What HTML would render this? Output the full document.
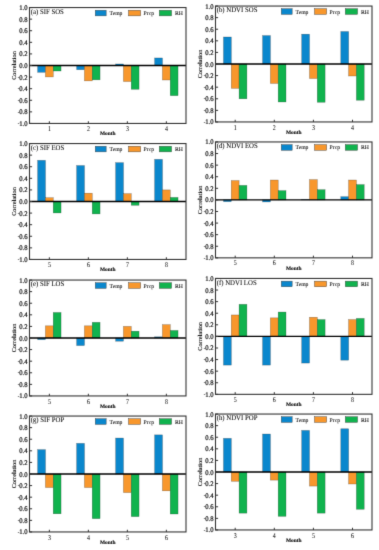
<!DOCTYPE html>
<html><head><meta charset="utf-8"><style>
html,body{margin:0;padding:0;background:#fff;}
body{width:379px;height:550px;overflow:hidden;}
svg{display:block;}
text{font-family:"Liberation Serif", serif;fill:#000000;text-rendering:geometricPrecision;stroke:#000;stroke-width:0.1px;}
.yt{font-size:7.0px;text-anchor:end;stroke-width:0.18px;}
.mn{font-size:4.9px;}
.xt{font-size:7.4px;text-anchor:middle;stroke-width:0.03px;}
.ml{font-size:5.4px;font-weight:bold;text-anchor:middle;}
.cl{font-size:6.0px;text-anchor:middle;}
.tt{font-size:7.3px;stroke-width:0.05px;}
.lg{font-size:5.7px;stroke-width:0.06px;}
</style></head><body>
<svg width="379" height="550" viewBox="0 0 379 550">
<defs><filter id="bl" x="0" y="0" width="379" height="550" filterUnits="userSpaceOnUse" color-interpolation-filters="sRGB"><feConvolveMatrix order="3" kernelMatrix="0.01115 0.08329 0.01115 0.08329 0.62227 0.08329 0.01115 0.08329 0.01115" edgeMode="duplicate"/></filter></defs>
<g filter="url(#bl)">
<rect width="379" height="550" fill="#fff"/>
<rect x="37.65" y="65.5" width="7.8" height="6.78" fill="#0a87cd" stroke="rgba(0,0,0,0.4)" stroke-width="0.5"/>
<rect x="45.45" y="65.5" width="7.8" height="11.42" fill="#f8972c" stroke="rgba(0,0,0,0.4)" stroke-width="0.5"/>
<rect x="53.25" y="65.5" width="7.8" height="5.51" fill="#10b34e" stroke="rgba(0,0,0,0.4)" stroke-width="0.5"/>
<rect x="76.65" y="65.5" width="7.8" height="4.17" fill="#0a87cd" stroke="rgba(0,0,0,0.4)" stroke-width="0.5"/>
<rect x="84.45" y="65.5" width="7.8" height="15.36" fill="#f8972c" stroke="rgba(0,0,0,0.4)" stroke-width="0.5"/>
<rect x="92.25" y="65.5" width="7.8" height="14.31" fill="#10b34e" stroke="rgba(0,0,0,0.4)" stroke-width="0.5"/>
<rect x="115.65" y="63.99" width="7.8" height="1.51" fill="#0a87cd" stroke="rgba(0,0,0,0.4)" stroke-width="0.5"/>
<rect x="123.45" y="65.5" width="7.8" height="15.99" fill="#f8972c" stroke="rgba(0,0,0,0.4)" stroke-width="0.5"/>
<rect x="131.25" y="65.5" width="7.8" height="23.76" fill="#10b34e" stroke="rgba(0,0,0,0.4)" stroke-width="0.5"/>
<rect x="154.65" y="57.97" width="7.8" height="7.53" fill="#0a87cd" stroke="rgba(0,0,0,0.4)" stroke-width="0.5"/>
<rect x="162.45" y="65.5" width="7.8" height="14.49" fill="#f8972c" stroke="rgba(0,0,0,0.4)" stroke-width="0.5"/>
<rect x="170.25" y="65.5" width="7.8" height="30.13" fill="#10b34e" stroke="rgba(0,0,0,0.4)" stroke-width="0.5"/>
<line x1="29.5" y1="65.5" x2="186" y2="65.5" stroke="#000" stroke-width="1.3"/>
<rect x="29.5" y="7.55" width="156.5" height="115.9" fill="none" stroke="#333333" stroke-width="1.1"/>
<line x1="29.5" y1="7.55" x2="32.1" y2="7.55" stroke="#333333" stroke-width="1"/>
<text transform="translate(27.5 10.05) scale(0.95 1)" class="yt">1.0</text>
<line x1="29.5" y1="19.14" x2="32.1" y2="19.14" stroke="#333333" stroke-width="1"/>
<text transform="translate(27.5 21.64) scale(0.95 1)" class="yt">0.8</text>
<line x1="29.5" y1="30.73" x2="32.1" y2="30.73" stroke="#333333" stroke-width="1"/>
<text transform="translate(27.5 33.23) scale(0.95 1)" class="yt">0.6</text>
<line x1="29.5" y1="42.32" x2="32.1" y2="42.32" stroke="#333333" stroke-width="1"/>
<text transform="translate(27.5 44.82) scale(0.95 1)" class="yt">0.4</text>
<line x1="29.5" y1="53.91" x2="32.1" y2="53.91" stroke="#333333" stroke-width="1"/>
<text transform="translate(27.5 56.41) scale(0.95 1)" class="yt">0.2</text>
<line x1="29.5" y1="65.5" x2="32.1" y2="65.5" stroke="#333333" stroke-width="1"/>
<text transform="translate(27.5 68) scale(0.95 1)" class="yt">0.0</text>
<line x1="29.5" y1="77.09" x2="32.1" y2="77.09" stroke="#333333" stroke-width="1"/>
<text transform="translate(27.5 79.59) scale(0.95 1)" class="yt"><tspan class="mn" dy="-0.8">-</tspan><tspan dy="0.8">0.2</tspan></text>
<line x1="29.5" y1="88.68" x2="32.1" y2="88.68" stroke="#333333" stroke-width="1"/>
<text transform="translate(27.5 91.18) scale(0.95 1)" class="yt"><tspan class="mn" dy="-0.8">-</tspan><tspan dy="0.8">0.4</tspan></text>
<line x1="29.5" y1="100.27" x2="32.1" y2="100.27" stroke="#333333" stroke-width="1"/>
<text transform="translate(27.5 102.77) scale(0.95 1)" class="yt"><tspan class="mn" dy="-0.8">-</tspan><tspan dy="0.8">0.6</tspan></text>
<line x1="29.5" y1="111.86" x2="32.1" y2="111.86" stroke="#333333" stroke-width="1"/>
<text transform="translate(27.5 114.36) scale(0.95 1)" class="yt"><tspan class="mn" dy="-0.8">-</tspan><tspan dy="0.8">0.8</tspan></text>
<line x1="29.5" y1="123.45" x2="32.1" y2="123.45" stroke="#333333" stroke-width="1"/>
<text transform="translate(27.5 125.95) scale(0.95 1)" class="yt"><tspan class="mn" dy="-0.8">-</tspan><tspan dy="0.8">1.0</tspan></text>
<line x1="49.35" y1="123.45" x2="49.35" y2="121.25" stroke="#333333" stroke-width="1"/>
<text transform="translate(49.35 131.05) scale(0.8 1)" class="xt">1</text>
<line x1="88.35" y1="123.45" x2="88.35" y2="121.25" stroke="#333333" stroke-width="1"/>
<text transform="translate(88.35 131.05) scale(0.8 1)" class="xt">2</text>
<line x1="127.35" y1="123.45" x2="127.35" y2="121.25" stroke="#333333" stroke-width="1"/>
<text transform="translate(127.35 131.05) scale(0.8 1)" class="xt">3</text>
<line x1="166.35" y1="123.45" x2="166.35" y2="121.25" stroke="#333333" stroke-width="1"/>
<text transform="translate(166.35 131.05) scale(0.8 1)" class="xt">4</text>
<text x="107.75" y="135.2" class="ml">Month</text>
<text transform="translate(15.7 65.5) rotate(-90) scale(1.05 1)" class="cl">Correlation</text>
<text transform="translate(30.7 13.85) scale(0.93 1)" class="tt">(a) SIF SOS</text>
<rect x="95.25" y="10.25" width="10.9" height="5.6" fill="#0a87cd" stroke="#444" stroke-width="0.45"/>
<text x="109.6" y="15.05" class="lg">Temp</text>
<rect x="128.5" y="10.25" width="12.1" height="5.6" fill="#f8972c" stroke="#444" stroke-width="0.45"/>
<text x="143.6" y="15.05" class="lg">Prcp</text>
<rect x="159.3" y="10.25" width="12.25" height="5.6" fill="#10b34e" stroke="#444" stroke-width="0.45"/>
<text x="175" y="15.05" class="lg">RH</text>
<rect x="223.5" y="37" width="7.8" height="27" fill="#0a87cd" stroke="rgba(0,0,0,0.4)" stroke-width="0.5"/>
<rect x="231.3" y="64" width="7.8" height="24.34" fill="#f8972c" stroke="rgba(0,0,0,0.4)" stroke-width="0.5"/>
<rect x="239.1" y="64" width="7.8" height="34.77" fill="#10b34e" stroke="rgba(0,0,0,0.4)" stroke-width="0.5"/>
<rect x="262.6" y="35.6" width="7.8" height="28.4" fill="#0a87cd" stroke="rgba(0,0,0,0.4)" stroke-width="0.5"/>
<rect x="270.4" y="64" width="7.8" height="19.41" fill="#f8972c" stroke="rgba(0,0,0,0.4)" stroke-width="0.5"/>
<rect x="278.2" y="64" width="7.8" height="37.96" fill="#10b34e" stroke="rgba(0,0,0,0.4)" stroke-width="0.5"/>
<rect x="301.7" y="34.21" width="7.8" height="29.79" fill="#0a87cd" stroke="rgba(0,0,0,0.4)" stroke-width="0.5"/>
<rect x="309.5" y="64" width="7.8" height="14.49" fill="#f8972c" stroke="rgba(0,0,0,0.4)" stroke-width="0.5"/>
<rect x="317.3" y="64" width="7.8" height="38.25" fill="#10b34e" stroke="rgba(0,0,0,0.4)" stroke-width="0.5"/>
<rect x="340.8" y="31.55" width="7.8" height="32.45" fill="#0a87cd" stroke="rgba(0,0,0,0.4)" stroke-width="0.5"/>
<rect x="348.6" y="64" width="7.8" height="12" fill="#f8972c" stroke="rgba(0,0,0,0.4)" stroke-width="0.5"/>
<rect x="356.4" y="64" width="7.8" height="36.22" fill="#10b34e" stroke="rgba(0,0,0,0.4)" stroke-width="0.5"/>
<line x1="215.5" y1="64" x2="372" y2="64" stroke="#000" stroke-width="1.3"/>
<rect x="215.5" y="6.05" width="156.5" height="115.9" fill="none" stroke="#333333" stroke-width="1.1"/>
<line x1="215.5" y1="6.05" x2="218.1" y2="6.05" stroke="#333333" stroke-width="1"/>
<text transform="translate(213.5 8.55) scale(0.95 1)" class="yt">1.0</text>
<line x1="215.5" y1="17.64" x2="218.1" y2="17.64" stroke="#333333" stroke-width="1"/>
<text transform="translate(213.5 20.14) scale(0.95 1)" class="yt">0.8</text>
<line x1="215.5" y1="29.23" x2="218.1" y2="29.23" stroke="#333333" stroke-width="1"/>
<text transform="translate(213.5 31.73) scale(0.95 1)" class="yt">0.6</text>
<line x1="215.5" y1="40.82" x2="218.1" y2="40.82" stroke="#333333" stroke-width="1"/>
<text transform="translate(213.5 43.32) scale(0.95 1)" class="yt">0.4</text>
<line x1="215.5" y1="52.41" x2="218.1" y2="52.41" stroke="#333333" stroke-width="1"/>
<text transform="translate(213.5 54.91) scale(0.95 1)" class="yt">0.2</text>
<line x1="215.5" y1="64" x2="218.1" y2="64" stroke="#333333" stroke-width="1"/>
<text transform="translate(213.5 66.5) scale(0.95 1)" class="yt">0.0</text>
<line x1="215.5" y1="75.59" x2="218.1" y2="75.59" stroke="#333333" stroke-width="1"/>
<text transform="translate(213.5 78.09) scale(0.95 1)" class="yt"><tspan class="mn" dy="-0.8">-</tspan><tspan dy="0.8">0.2</tspan></text>
<line x1="215.5" y1="87.18" x2="218.1" y2="87.18" stroke="#333333" stroke-width="1"/>
<text transform="translate(213.5 89.68) scale(0.95 1)" class="yt"><tspan class="mn" dy="-0.8">-</tspan><tspan dy="0.8">0.4</tspan></text>
<line x1="215.5" y1="98.77" x2="218.1" y2="98.77" stroke="#333333" stroke-width="1"/>
<text transform="translate(213.5 101.27) scale(0.95 1)" class="yt"><tspan class="mn" dy="-0.8">-</tspan><tspan dy="0.8">0.6</tspan></text>
<line x1="215.5" y1="110.36" x2="218.1" y2="110.36" stroke="#333333" stroke-width="1"/>
<text transform="translate(213.5 112.86) scale(0.95 1)" class="yt"><tspan class="mn" dy="-0.8">-</tspan><tspan dy="0.8">0.8</tspan></text>
<line x1="215.5" y1="121.95" x2="218.1" y2="121.95" stroke="#333333" stroke-width="1"/>
<text transform="translate(213.5 124.45) scale(0.95 1)" class="yt"><tspan class="mn" dy="-0.8">-</tspan><tspan dy="0.8">1.0</tspan></text>
<line x1="235.2" y1="121.95" x2="235.2" y2="119.75" stroke="#333333" stroke-width="1"/>
<text transform="translate(235.2 129.55) scale(0.8 1)" class="xt">1</text>
<line x1="274.3" y1="121.95" x2="274.3" y2="119.75" stroke="#333333" stroke-width="1"/>
<text transform="translate(274.3 129.55) scale(0.8 1)" class="xt">2</text>
<line x1="313.4" y1="121.95" x2="313.4" y2="119.75" stroke="#333333" stroke-width="1"/>
<text transform="translate(313.4 129.55) scale(0.8 1)" class="xt">3</text>
<line x1="352.5" y1="121.95" x2="352.5" y2="119.75" stroke="#333333" stroke-width="1"/>
<text transform="translate(352.5 129.55) scale(0.8 1)" class="xt">4</text>
<text x="293.75" y="133.7" class="ml">Month</text>
<text transform="translate(201.7 64) rotate(-90) scale(1.05 1)" class="cl">Correlation</text>
<text transform="translate(216.7 12.35) scale(0.93 1)" class="tt">(b) NDVI SOS</text>
<rect x="281.25" y="8.75" width="10.9" height="5.6" fill="#0a87cd" stroke="#444" stroke-width="0.45"/>
<text x="295.6" y="13.55" class="lg">Temp</text>
<rect x="314.5" y="8.75" width="12.1" height="5.6" fill="#f8972c" stroke="#444" stroke-width="0.45"/>
<text x="329.6" y="13.55" class="lg">Prcp</text>
<rect x="345.3" y="8.75" width="12.25" height="5.6" fill="#10b34e" stroke="#444" stroke-width="0.45"/>
<text x="361" y="13.55" class="lg">RH</text>
<rect x="37.65" y="160.36" width="7.8" height="41.14" fill="#0a87cd" stroke="rgba(0,0,0,0.4)" stroke-width="0.5"/>
<rect x="45.45" y="197.73" width="7.8" height="3.77" fill="#f8972c" stroke="rgba(0,0,0,0.4)" stroke-width="0.5"/>
<rect x="53.25" y="201.5" width="7.8" height="11.42" fill="#10b34e" stroke="rgba(0,0,0,0.4)" stroke-width="0.5"/>
<rect x="76.65" y="165.57" width="7.8" height="35.93" fill="#0a87cd" stroke="rgba(0,0,0,0.4)" stroke-width="0.5"/>
<rect x="84.45" y="193.21" width="7.8" height="8.29" fill="#f8972c" stroke="rgba(0,0,0,0.4)" stroke-width="0.5"/>
<rect x="92.25" y="201.5" width="7.8" height="12.4" fill="#10b34e" stroke="rgba(0,0,0,0.4)" stroke-width="0.5"/>
<rect x="115.65" y="162.67" width="7.8" height="38.83" fill="#0a87cd" stroke="rgba(0,0,0,0.4)" stroke-width="0.5"/>
<rect x="123.45" y="193.68" width="7.8" height="7.82" fill="#f8972c" stroke="rgba(0,0,0,0.4)" stroke-width="0.5"/>
<rect x="131.25" y="201.5" width="7.8" height="3.77" fill="#10b34e" stroke="rgba(0,0,0,0.4)" stroke-width="0.5"/>
<rect x="154.65" y="159.37" width="7.8" height="42.13" fill="#0a87cd" stroke="rgba(0,0,0,0.4)" stroke-width="0.5"/>
<rect x="162.45" y="189.91" width="7.8" height="11.59" fill="#f8972c" stroke="rgba(0,0,0,0.4)" stroke-width="0.5"/>
<rect x="170.25" y="197.44" width="7.8" height="4.06" fill="#10b34e" stroke="rgba(0,0,0,0.4)" stroke-width="0.5"/>
<line x1="29.5" y1="201.5" x2="186" y2="201.5" stroke="#000" stroke-width="1.3"/>
<rect x="29.5" y="143.55" width="156.5" height="115.9" fill="none" stroke="#333333" stroke-width="1.1"/>
<line x1="29.5" y1="143.55" x2="32.1" y2="143.55" stroke="#333333" stroke-width="1"/>
<text transform="translate(27.5 146.05) scale(0.95 1)" class="yt">1.0</text>
<line x1="29.5" y1="155.14" x2="32.1" y2="155.14" stroke="#333333" stroke-width="1"/>
<text transform="translate(27.5 157.64) scale(0.95 1)" class="yt">0.8</text>
<line x1="29.5" y1="166.73" x2="32.1" y2="166.73" stroke="#333333" stroke-width="1"/>
<text transform="translate(27.5 169.23) scale(0.95 1)" class="yt">0.6</text>
<line x1="29.5" y1="178.32" x2="32.1" y2="178.32" stroke="#333333" stroke-width="1"/>
<text transform="translate(27.5 180.82) scale(0.95 1)" class="yt">0.4</text>
<line x1="29.5" y1="189.91" x2="32.1" y2="189.91" stroke="#333333" stroke-width="1"/>
<text transform="translate(27.5 192.41) scale(0.95 1)" class="yt">0.2</text>
<line x1="29.5" y1="201.5" x2="32.1" y2="201.5" stroke="#333333" stroke-width="1"/>
<text transform="translate(27.5 204) scale(0.95 1)" class="yt">0.0</text>
<line x1="29.5" y1="213.09" x2="32.1" y2="213.09" stroke="#333333" stroke-width="1"/>
<text transform="translate(27.5 215.59) scale(0.95 1)" class="yt"><tspan class="mn" dy="-0.8">-</tspan><tspan dy="0.8">0.2</tspan></text>
<line x1="29.5" y1="224.68" x2="32.1" y2="224.68" stroke="#333333" stroke-width="1"/>
<text transform="translate(27.5 227.18) scale(0.95 1)" class="yt"><tspan class="mn" dy="-0.8">-</tspan><tspan dy="0.8">0.4</tspan></text>
<line x1="29.5" y1="236.27" x2="32.1" y2="236.27" stroke="#333333" stroke-width="1"/>
<text transform="translate(27.5 238.77) scale(0.95 1)" class="yt"><tspan class="mn" dy="-0.8">-</tspan><tspan dy="0.8">0.6</tspan></text>
<line x1="29.5" y1="247.86" x2="32.1" y2="247.86" stroke="#333333" stroke-width="1"/>
<text transform="translate(27.5 250.36) scale(0.95 1)" class="yt"><tspan class="mn" dy="-0.8">-</tspan><tspan dy="0.8">0.8</tspan></text>
<line x1="29.5" y1="259.45" x2="32.1" y2="259.45" stroke="#333333" stroke-width="1"/>
<text transform="translate(27.5 261.95) scale(0.95 1)" class="yt"><tspan class="mn" dy="-0.8">-</tspan><tspan dy="0.8">1.0</tspan></text>
<line x1="49.35" y1="259.45" x2="49.35" y2="257.25" stroke="#333333" stroke-width="1"/>
<text transform="translate(49.35 267.05) scale(0.8 1)" class="xt">5</text>
<line x1="88.35" y1="259.45" x2="88.35" y2="257.25" stroke="#333333" stroke-width="1"/>
<text transform="translate(88.35 267.05) scale(0.8 1)" class="xt">6</text>
<line x1="127.35" y1="259.45" x2="127.35" y2="257.25" stroke="#333333" stroke-width="1"/>
<text transform="translate(127.35 267.05) scale(0.8 1)" class="xt">7</text>
<line x1="166.35" y1="259.45" x2="166.35" y2="257.25" stroke="#333333" stroke-width="1"/>
<text transform="translate(166.35 267.05) scale(0.8 1)" class="xt">8</text>
<text x="107.75" y="271.2" class="ml">Month</text>
<text transform="translate(15.7 201.5) rotate(-90) scale(1.05 1)" class="cl">Correlation</text>
<text transform="translate(30.7 149.85) scale(0.93 1)" class="tt">(c) SIF EOS</text>
<rect x="95.25" y="146.25" width="10.9" height="5.6" fill="#0a87cd" stroke="#444" stroke-width="0.45"/>
<text x="109.6" y="151.05" class="lg">Temp</text>
<rect x="128.5" y="146.25" width="12.1" height="5.6" fill="#f8972c" stroke="#444" stroke-width="0.45"/>
<text x="143.6" y="151.05" class="lg">Prcp</text>
<rect x="159.3" y="146.25" width="12.25" height="5.6" fill="#10b34e" stroke="#444" stroke-width="0.45"/>
<text x="175" y="151.05" class="lg">RH</text>
<rect x="223.5" y="199.9" width="7.8" height="1.74" fill="#0a87cd" stroke="rgba(0,0,0,0.4)" stroke-width="0.5"/>
<rect x="231.3" y="180.6" width="7.8" height="19.3" fill="#f8972c" stroke="rgba(0,0,0,0.4)" stroke-width="0.5"/>
<rect x="239.1" y="185.41" width="7.8" height="14.49" fill="#10b34e" stroke="rgba(0,0,0,0.4)" stroke-width="0.5"/>
<rect x="262.6" y="199.9" width="7.8" height="2.03" fill="#0a87cd" stroke="rgba(0,0,0,0.4)" stroke-width="0.5"/>
<rect x="270.4" y="180.02" width="7.8" height="19.88" fill="#f8972c" stroke="rgba(0,0,0,0.4)" stroke-width="0.5"/>
<rect x="278.2" y="190.63" width="7.8" height="9.27" fill="#10b34e" stroke="rgba(0,0,0,0.4)" stroke-width="0.5"/>
<rect x="301.7" y="199.61" width="7.8" height="0.29" fill="#0a87cd" stroke="rgba(0,0,0,0.4)" stroke-width="0.5"/>
<rect x="309.5" y="179.62" width="7.8" height="20.28" fill="#f8972c" stroke="rgba(0,0,0,0.4)" stroke-width="0.5"/>
<rect x="317.3" y="189.7" width="7.8" height="10.2" fill="#10b34e" stroke="rgba(0,0,0,0.4)" stroke-width="0.5"/>
<rect x="340.8" y="196.71" width="7.8" height="3.19" fill="#0a87cd" stroke="rgba(0,0,0,0.4)" stroke-width="0.5"/>
<rect x="348.6" y="180.02" width="7.8" height="19.88" fill="#f8972c" stroke="rgba(0,0,0,0.4)" stroke-width="0.5"/>
<rect x="356.4" y="184.6" width="7.8" height="15.3" fill="#10b34e" stroke="rgba(0,0,0,0.4)" stroke-width="0.5"/>
<line x1="215.5" y1="199.9" x2="372" y2="199.9" stroke="#000" stroke-width="1.3"/>
<rect x="215.5" y="141.95" width="156.5" height="115.9" fill="none" stroke="#333333" stroke-width="1.1"/>
<line x1="215.5" y1="141.95" x2="218.1" y2="141.95" stroke="#333333" stroke-width="1"/>
<text transform="translate(213.5 144.45) scale(0.95 1)" class="yt">1.0</text>
<line x1="215.5" y1="153.54" x2="218.1" y2="153.54" stroke="#333333" stroke-width="1"/>
<text transform="translate(213.5 156.04) scale(0.95 1)" class="yt">0.8</text>
<line x1="215.5" y1="165.13" x2="218.1" y2="165.13" stroke="#333333" stroke-width="1"/>
<text transform="translate(213.5 167.63) scale(0.95 1)" class="yt">0.6</text>
<line x1="215.5" y1="176.72" x2="218.1" y2="176.72" stroke="#333333" stroke-width="1"/>
<text transform="translate(213.5 179.22) scale(0.95 1)" class="yt">0.4</text>
<line x1="215.5" y1="188.31" x2="218.1" y2="188.31" stroke="#333333" stroke-width="1"/>
<text transform="translate(213.5 190.81) scale(0.95 1)" class="yt">0.2</text>
<line x1="215.5" y1="199.9" x2="218.1" y2="199.9" stroke="#333333" stroke-width="1"/>
<text transform="translate(213.5 202.4) scale(0.95 1)" class="yt">0.0</text>
<line x1="215.5" y1="211.49" x2="218.1" y2="211.49" stroke="#333333" stroke-width="1"/>
<text transform="translate(213.5 213.99) scale(0.95 1)" class="yt"><tspan class="mn" dy="-0.8">-</tspan><tspan dy="0.8">0.2</tspan></text>
<line x1="215.5" y1="223.08" x2="218.1" y2="223.08" stroke="#333333" stroke-width="1"/>
<text transform="translate(213.5 225.58) scale(0.95 1)" class="yt"><tspan class="mn" dy="-0.8">-</tspan><tspan dy="0.8">0.4</tspan></text>
<line x1="215.5" y1="234.67" x2="218.1" y2="234.67" stroke="#333333" stroke-width="1"/>
<text transform="translate(213.5 237.17) scale(0.95 1)" class="yt"><tspan class="mn" dy="-0.8">-</tspan><tspan dy="0.8">0.6</tspan></text>
<line x1="215.5" y1="246.26" x2="218.1" y2="246.26" stroke="#333333" stroke-width="1"/>
<text transform="translate(213.5 248.76) scale(0.95 1)" class="yt"><tspan class="mn" dy="-0.8">-</tspan><tspan dy="0.8">0.8</tspan></text>
<line x1="215.5" y1="257.85" x2="218.1" y2="257.85" stroke="#333333" stroke-width="1"/>
<text transform="translate(213.5 260.35) scale(0.95 1)" class="yt"><tspan class="mn" dy="-0.8">-</tspan><tspan dy="0.8">1.0</tspan></text>
<line x1="235.2" y1="257.85" x2="235.2" y2="255.65" stroke="#333333" stroke-width="1"/>
<text transform="translate(235.2 265.45) scale(0.8 1)" class="xt">5</text>
<line x1="274.3" y1="257.85" x2="274.3" y2="255.65" stroke="#333333" stroke-width="1"/>
<text transform="translate(274.3 265.45) scale(0.8 1)" class="xt">6</text>
<line x1="313.4" y1="257.85" x2="313.4" y2="255.65" stroke="#333333" stroke-width="1"/>
<text transform="translate(313.4 265.45) scale(0.8 1)" class="xt">7</text>
<line x1="352.5" y1="257.85" x2="352.5" y2="255.65" stroke="#333333" stroke-width="1"/>
<text transform="translate(352.5 265.45) scale(0.8 1)" class="xt">8</text>
<text x="293.75" y="269.6" class="ml">Month</text>
<text transform="translate(201.7 199.9) rotate(-90) scale(1.05 1)" class="cl">Correlation</text>
<text transform="translate(216.7 148.25) scale(0.93 1)" class="tt">(d) NDVI EOS</text>
<rect x="281.25" y="144.65" width="10.9" height="5.6" fill="#0a87cd" stroke="#444" stroke-width="0.45"/>
<text x="295.6" y="149.45" class="lg">Temp</text>
<rect x="314.5" y="144.65" width="12.1" height="5.6" fill="#f8972c" stroke="#444" stroke-width="0.45"/>
<text x="329.6" y="149.45" class="lg">Prcp</text>
<rect x="345.3" y="144.65" width="12.25" height="5.6" fill="#10b34e" stroke="#444" stroke-width="0.45"/>
<text x="361" y="149.45" class="lg">RH</text>
<rect x="37.65" y="338" width="7.8" height="1.62" fill="#0a87cd" stroke="rgba(0,0,0,0.4)" stroke-width="0.5"/>
<rect x="45.45" y="325.83" width="7.8" height="12.17" fill="#f8972c" stroke="rgba(0,0,0,0.4)" stroke-width="0.5"/>
<rect x="53.25" y="312.5" width="7.8" height="25.5" fill="#10b34e" stroke="rgba(0,0,0,0.4)" stroke-width="0.5"/>
<rect x="76.65" y="338" width="7.8" height="7.53" fill="#0a87cd" stroke="rgba(0,0,0,0.4)" stroke-width="0.5"/>
<rect x="84.45" y="325.83" width="7.8" height="12.17" fill="#f8972c" stroke="rgba(0,0,0,0.4)" stroke-width="0.5"/>
<rect x="92.25" y="322.35" width="7.8" height="15.65" fill="#10b34e" stroke="rgba(0,0,0,0.4)" stroke-width="0.5"/>
<rect x="115.65" y="338" width="7.8" height="3.19" fill="#0a87cd" stroke="rgba(0,0,0,0.4)" stroke-width="0.5"/>
<rect x="123.45" y="326.41" width="7.8" height="11.59" fill="#f8972c" stroke="rgba(0,0,0,0.4)" stroke-width="0.5"/>
<rect x="131.25" y="331.22" width="7.8" height="6.78" fill="#10b34e" stroke="rgba(0,0,0,0.4)" stroke-width="0.5"/>
<rect x="154.65" y="336.84" width="7.8" height="1.16" fill="#0a87cd" stroke="rgba(0,0,0,0.4)" stroke-width="0.5"/>
<rect x="162.45" y="324.67" width="7.8" height="13.33" fill="#f8972c" stroke="rgba(0,0,0,0.4)" stroke-width="0.5"/>
<rect x="170.25" y="330.47" width="7.8" height="7.53" fill="#10b34e" stroke="rgba(0,0,0,0.4)" stroke-width="0.5"/>
<line x1="29.5" y1="338" x2="186" y2="338" stroke="#000" stroke-width="1.3"/>
<rect x="29.5" y="280.05" width="156.5" height="115.9" fill="none" stroke="#333333" stroke-width="1.1"/>
<line x1="29.5" y1="280.05" x2="32.1" y2="280.05" stroke="#333333" stroke-width="1"/>
<text transform="translate(27.5 282.55) scale(0.95 1)" class="yt">1.0</text>
<line x1="29.5" y1="291.64" x2="32.1" y2="291.64" stroke="#333333" stroke-width="1"/>
<text transform="translate(27.5 294.14) scale(0.95 1)" class="yt">0.8</text>
<line x1="29.5" y1="303.23" x2="32.1" y2="303.23" stroke="#333333" stroke-width="1"/>
<text transform="translate(27.5 305.73) scale(0.95 1)" class="yt">0.6</text>
<line x1="29.5" y1="314.82" x2="32.1" y2="314.82" stroke="#333333" stroke-width="1"/>
<text transform="translate(27.5 317.32) scale(0.95 1)" class="yt">0.4</text>
<line x1="29.5" y1="326.41" x2="32.1" y2="326.41" stroke="#333333" stroke-width="1"/>
<text transform="translate(27.5 328.91) scale(0.95 1)" class="yt">0.2</text>
<line x1="29.5" y1="338" x2="32.1" y2="338" stroke="#333333" stroke-width="1"/>
<text transform="translate(27.5 340.5) scale(0.95 1)" class="yt">0.0</text>
<line x1="29.5" y1="349.59" x2="32.1" y2="349.59" stroke="#333333" stroke-width="1"/>
<text transform="translate(27.5 352.09) scale(0.95 1)" class="yt"><tspan class="mn" dy="-0.8">-</tspan><tspan dy="0.8">0.2</tspan></text>
<line x1="29.5" y1="361.18" x2="32.1" y2="361.18" stroke="#333333" stroke-width="1"/>
<text transform="translate(27.5 363.68) scale(0.95 1)" class="yt"><tspan class="mn" dy="-0.8">-</tspan><tspan dy="0.8">0.4</tspan></text>
<line x1="29.5" y1="372.77" x2="32.1" y2="372.77" stroke="#333333" stroke-width="1"/>
<text transform="translate(27.5 375.27) scale(0.95 1)" class="yt"><tspan class="mn" dy="-0.8">-</tspan><tspan dy="0.8">0.6</tspan></text>
<line x1="29.5" y1="384.36" x2="32.1" y2="384.36" stroke="#333333" stroke-width="1"/>
<text transform="translate(27.5 386.86) scale(0.95 1)" class="yt"><tspan class="mn" dy="-0.8">-</tspan><tspan dy="0.8">0.8</tspan></text>
<line x1="29.5" y1="395.95" x2="32.1" y2="395.95" stroke="#333333" stroke-width="1"/>
<text transform="translate(27.5 398.45) scale(0.95 1)" class="yt"><tspan class="mn" dy="-0.8">-</tspan><tspan dy="0.8">1.0</tspan></text>
<line x1="49.35" y1="395.95" x2="49.35" y2="393.75" stroke="#333333" stroke-width="1"/>
<text transform="translate(49.35 403.55) scale(0.8 1)" class="xt">5</text>
<line x1="88.35" y1="395.95" x2="88.35" y2="393.75" stroke="#333333" stroke-width="1"/>
<text transform="translate(88.35 403.55) scale(0.8 1)" class="xt">6</text>
<line x1="127.35" y1="395.95" x2="127.35" y2="393.75" stroke="#333333" stroke-width="1"/>
<text transform="translate(127.35 403.55) scale(0.8 1)" class="xt">7</text>
<line x1="166.35" y1="395.95" x2="166.35" y2="393.75" stroke="#333333" stroke-width="1"/>
<text transform="translate(166.35 403.55) scale(0.8 1)" class="xt">8</text>
<text x="107.75" y="407.7" class="ml">Month</text>
<text transform="translate(15.7 338) rotate(-90) scale(1.05 1)" class="cl">Correlation</text>
<text transform="translate(30.7 286.35) scale(0.93 1)" class="tt">(e) SIF LOS</text>
<rect x="95.25" y="282.75" width="10.9" height="5.6" fill="#0a87cd" stroke="#444" stroke-width="0.45"/>
<text x="109.6" y="287.55" class="lg">Temp</text>
<rect x="128.5" y="282.75" width="12.1" height="5.6" fill="#f8972c" stroke="#444" stroke-width="0.45"/>
<text x="143.6" y="287.55" class="lg">Prcp</text>
<rect x="159.3" y="282.75" width="12.25" height="5.6" fill="#10b34e" stroke="#444" stroke-width="0.45"/>
<text x="175" y="287.55" class="lg">RH</text>
<rect x="223.5" y="336.4" width="7.8" height="28.69" fill="#0a87cd" stroke="rgba(0,0,0,0.4)" stroke-width="0.5"/>
<rect x="231.3" y="314.96" width="7.8" height="21.44" fill="#f8972c" stroke="rgba(0,0,0,0.4)" stroke-width="0.5"/>
<rect x="239.1" y="304.35" width="7.8" height="32.05" fill="#10b34e" stroke="rgba(0,0,0,0.4)" stroke-width="0.5"/>
<rect x="262.6" y="336.4" width="7.8" height="28.69" fill="#0a87cd" stroke="rgba(0,0,0,0.4)" stroke-width="0.5"/>
<rect x="270.4" y="317.86" width="7.8" height="18.54" fill="#f8972c" stroke="rgba(0,0,0,0.4)" stroke-width="0.5"/>
<rect x="278.2" y="312.06" width="7.8" height="24.34" fill="#10b34e" stroke="rgba(0,0,0,0.4)" stroke-width="0.5"/>
<rect x="301.7" y="336.4" width="7.8" height="26.66" fill="#0a87cd" stroke="rgba(0,0,0,0.4)" stroke-width="0.5"/>
<rect x="309.5" y="317.28" width="7.8" height="19.12" fill="#f8972c" stroke="rgba(0,0,0,0.4)" stroke-width="0.5"/>
<rect x="317.3" y="319.59" width="7.8" height="16.81" fill="#10b34e" stroke="rgba(0,0,0,0.4)" stroke-width="0.5"/>
<rect x="340.8" y="336.4" width="7.8" height="23.76" fill="#0a87cd" stroke="rgba(0,0,0,0.4)" stroke-width="0.5"/>
<rect x="348.6" y="319.59" width="7.8" height="16.81" fill="#f8972c" stroke="rgba(0,0,0,0.4)" stroke-width="0.5"/>
<rect x="356.4" y="318.44" width="7.8" height="17.96" fill="#10b34e" stroke="rgba(0,0,0,0.4)" stroke-width="0.5"/>
<line x1="215.5" y1="336.4" x2="372" y2="336.4" stroke="#000" stroke-width="1.3"/>
<rect x="215.5" y="278.45" width="156.5" height="115.9" fill="none" stroke="#333333" stroke-width="1.1"/>
<line x1="215.5" y1="278.45" x2="218.1" y2="278.45" stroke="#333333" stroke-width="1"/>
<text transform="translate(213.5 280.95) scale(0.95 1)" class="yt">1.0</text>
<line x1="215.5" y1="290.04" x2="218.1" y2="290.04" stroke="#333333" stroke-width="1"/>
<text transform="translate(213.5 292.54) scale(0.95 1)" class="yt">0.8</text>
<line x1="215.5" y1="301.63" x2="218.1" y2="301.63" stroke="#333333" stroke-width="1"/>
<text transform="translate(213.5 304.13) scale(0.95 1)" class="yt">0.6</text>
<line x1="215.5" y1="313.22" x2="218.1" y2="313.22" stroke="#333333" stroke-width="1"/>
<text transform="translate(213.5 315.72) scale(0.95 1)" class="yt">0.4</text>
<line x1="215.5" y1="324.81" x2="218.1" y2="324.81" stroke="#333333" stroke-width="1"/>
<text transform="translate(213.5 327.31) scale(0.95 1)" class="yt">0.2</text>
<line x1="215.5" y1="336.4" x2="218.1" y2="336.4" stroke="#333333" stroke-width="1"/>
<text transform="translate(213.5 338.9) scale(0.95 1)" class="yt">0.0</text>
<line x1="215.5" y1="347.99" x2="218.1" y2="347.99" stroke="#333333" stroke-width="1"/>
<text transform="translate(213.5 350.49) scale(0.95 1)" class="yt"><tspan class="mn" dy="-0.8">-</tspan><tspan dy="0.8">0.2</tspan></text>
<line x1="215.5" y1="359.58" x2="218.1" y2="359.58" stroke="#333333" stroke-width="1"/>
<text transform="translate(213.5 362.08) scale(0.95 1)" class="yt"><tspan class="mn" dy="-0.8">-</tspan><tspan dy="0.8">0.4</tspan></text>
<line x1="215.5" y1="371.17" x2="218.1" y2="371.17" stroke="#333333" stroke-width="1"/>
<text transform="translate(213.5 373.67) scale(0.95 1)" class="yt"><tspan class="mn" dy="-0.8">-</tspan><tspan dy="0.8">0.6</tspan></text>
<line x1="215.5" y1="382.76" x2="218.1" y2="382.76" stroke="#333333" stroke-width="1"/>
<text transform="translate(213.5 385.26) scale(0.95 1)" class="yt"><tspan class="mn" dy="-0.8">-</tspan><tspan dy="0.8">0.8</tspan></text>
<line x1="215.5" y1="394.35" x2="218.1" y2="394.35" stroke="#333333" stroke-width="1"/>
<text transform="translate(213.5 396.85) scale(0.95 1)" class="yt"><tspan class="mn" dy="-0.8">-</tspan><tspan dy="0.8">1.0</tspan></text>
<line x1="235.2" y1="394.35" x2="235.2" y2="392.15" stroke="#333333" stroke-width="1"/>
<text transform="translate(235.2 401.95) scale(0.8 1)" class="xt">5</text>
<line x1="274.3" y1="394.35" x2="274.3" y2="392.15" stroke="#333333" stroke-width="1"/>
<text transform="translate(274.3 401.95) scale(0.8 1)" class="xt">6</text>
<line x1="313.4" y1="394.35" x2="313.4" y2="392.15" stroke="#333333" stroke-width="1"/>
<text transform="translate(313.4 401.95) scale(0.8 1)" class="xt">7</text>
<line x1="352.5" y1="394.35" x2="352.5" y2="392.15" stroke="#333333" stroke-width="1"/>
<text transform="translate(352.5 401.95) scale(0.8 1)" class="xt">8</text>
<text x="293.75" y="406.1" class="ml">Month</text>
<text transform="translate(201.7 336.4) rotate(-90) scale(1.05 1)" class="cl">Correlation</text>
<text transform="translate(216.7 284.75) scale(0.93 1)" class="tt">(f) NDVI LOS</text>
<rect x="281.25" y="281.15" width="10.9" height="5.6" fill="#0a87cd" stroke="#444" stroke-width="0.45"/>
<text x="295.6" y="285.95" class="lg">Temp</text>
<rect x="314.5" y="281.15" width="12.1" height="5.6" fill="#f8972c" stroke="#444" stroke-width="0.45"/>
<text x="329.6" y="285.95" class="lg">Prcp</text>
<rect x="345.3" y="281.15" width="12.25" height="5.6" fill="#10b34e" stroke="#444" stroke-width="0.45"/>
<text x="361" y="285.95" class="lg">RH</text>
<rect x="37.65" y="449.66" width="7.8" height="24.34" fill="#0a87cd" stroke="rgba(0,0,0,0.4)" stroke-width="0.5"/>
<rect x="45.45" y="474" width="7.8" height="13.5" fill="#f8972c" stroke="rgba(0,0,0,0.4)" stroke-width="0.5"/>
<rect x="53.25" y="474" width="7.8" height="39.75" fill="#10b34e" stroke="rgba(0,0,0,0.4)" stroke-width="0.5"/>
<rect x="76.65" y="443.4" width="7.8" height="30.6" fill="#0a87cd" stroke="rgba(0,0,0,0.4)" stroke-width="0.5"/>
<rect x="84.45" y="474" width="7.8" height="13.5" fill="#f8972c" stroke="rgba(0,0,0,0.4)" stroke-width="0.5"/>
<rect x="92.25" y="474" width="7.8" height="44.62" fill="#10b34e" stroke="rgba(0,0,0,0.4)" stroke-width="0.5"/>
<rect x="115.65" y="438.07" width="7.8" height="35.93" fill="#0a87cd" stroke="rgba(0,0,0,0.4)" stroke-width="0.5"/>
<rect x="123.45" y="474" width="7.8" height="18.54" fill="#f8972c" stroke="rgba(0,0,0,0.4)" stroke-width="0.5"/>
<rect x="131.25" y="474" width="7.8" height="42.59" fill="#10b34e" stroke="rgba(0,0,0,0.4)" stroke-width="0.5"/>
<rect x="154.65" y="434.88" width="7.8" height="39.12" fill="#0a87cd" stroke="rgba(0,0,0,0.4)" stroke-width="0.5"/>
<rect x="162.45" y="474" width="7.8" height="16.81" fill="#f8972c" stroke="rgba(0,0,0,0.4)" stroke-width="0.5"/>
<rect x="170.25" y="474" width="7.8" height="39.99" fill="#10b34e" stroke="rgba(0,0,0,0.4)" stroke-width="0.5"/>
<line x1="29.5" y1="474" x2="186" y2="474" stroke="#000" stroke-width="1.3"/>
<rect x="29.5" y="416.05" width="156.5" height="115.9" fill="none" stroke="#333333" stroke-width="1.1"/>
<line x1="29.5" y1="416.05" x2="32.1" y2="416.05" stroke="#333333" stroke-width="1"/>
<text transform="translate(27.5 418.55) scale(0.95 1)" class="yt">1.0</text>
<line x1="29.5" y1="427.64" x2="32.1" y2="427.64" stroke="#333333" stroke-width="1"/>
<text transform="translate(27.5 430.14) scale(0.95 1)" class="yt">0.8</text>
<line x1="29.5" y1="439.23" x2="32.1" y2="439.23" stroke="#333333" stroke-width="1"/>
<text transform="translate(27.5 441.73) scale(0.95 1)" class="yt">0.6</text>
<line x1="29.5" y1="450.82" x2="32.1" y2="450.82" stroke="#333333" stroke-width="1"/>
<text transform="translate(27.5 453.32) scale(0.95 1)" class="yt">0.4</text>
<line x1="29.5" y1="462.41" x2="32.1" y2="462.41" stroke="#333333" stroke-width="1"/>
<text transform="translate(27.5 464.91) scale(0.95 1)" class="yt">0.2</text>
<line x1="29.5" y1="474" x2="32.1" y2="474" stroke="#333333" stroke-width="1"/>
<text transform="translate(27.5 476.5) scale(0.95 1)" class="yt">0.0</text>
<line x1="29.5" y1="485.59" x2="32.1" y2="485.59" stroke="#333333" stroke-width="1"/>
<text transform="translate(27.5 488.09) scale(0.95 1)" class="yt"><tspan class="mn" dy="-0.8">-</tspan><tspan dy="0.8">0.2</tspan></text>
<line x1="29.5" y1="497.18" x2="32.1" y2="497.18" stroke="#333333" stroke-width="1"/>
<text transform="translate(27.5 499.68) scale(0.95 1)" class="yt"><tspan class="mn" dy="-0.8">-</tspan><tspan dy="0.8">0.4</tspan></text>
<line x1="29.5" y1="508.77" x2="32.1" y2="508.77" stroke="#333333" stroke-width="1"/>
<text transform="translate(27.5 511.27) scale(0.95 1)" class="yt"><tspan class="mn" dy="-0.8">-</tspan><tspan dy="0.8">0.6</tspan></text>
<line x1="29.5" y1="520.36" x2="32.1" y2="520.36" stroke="#333333" stroke-width="1"/>
<text transform="translate(27.5 522.86) scale(0.95 1)" class="yt"><tspan class="mn" dy="-0.8">-</tspan><tspan dy="0.8">0.8</tspan></text>
<line x1="29.5" y1="531.95" x2="32.1" y2="531.95" stroke="#333333" stroke-width="1"/>
<text transform="translate(27.5 534.45) scale(0.95 1)" class="yt"><tspan class="mn" dy="-0.8">-</tspan><tspan dy="0.8">1.0</tspan></text>
<line x1="49.35" y1="531.95" x2="49.35" y2="529.75" stroke="#333333" stroke-width="1"/>
<text transform="translate(49.35 539.55) scale(0.8 1)" class="xt">3</text>
<line x1="88.35" y1="531.95" x2="88.35" y2="529.75" stroke="#333333" stroke-width="1"/>
<text transform="translate(88.35 539.55) scale(0.8 1)" class="xt">4</text>
<line x1="127.35" y1="531.95" x2="127.35" y2="529.75" stroke="#333333" stroke-width="1"/>
<text transform="translate(127.35 539.55) scale(0.8 1)" class="xt">5</text>
<line x1="166.35" y1="531.95" x2="166.35" y2="529.75" stroke="#333333" stroke-width="1"/>
<text transform="translate(166.35 539.55) scale(0.8 1)" class="xt">6</text>
<text x="107.75" y="543.7" class="ml">Month</text>
<text transform="translate(15.7 474) rotate(-90) scale(1.05 1)" class="cl">Correlation</text>
<text transform="translate(30.7 422.35) scale(0.93 1)" class="tt">(g) SIF POP</text>
<rect x="95.25" y="418.75" width="10.9" height="5.6" fill="#0a87cd" stroke="#444" stroke-width="0.45"/>
<text x="109.6" y="423.55" class="lg">Temp</text>
<rect x="128.5" y="418.75" width="12.1" height="5.6" fill="#f8972c" stroke="#444" stroke-width="0.45"/>
<text x="143.6" y="423.55" class="lg">Prcp</text>
<rect x="159.3" y="418.75" width="12.25" height="5.6" fill="#10b34e" stroke="#444" stroke-width="0.45"/>
<text x="175" y="423.55" class="lg">RH</text>
<rect x="223.5" y="438.39" width="7.8" height="33.61" fill="#0a87cd" stroke="rgba(0,0,0,0.4)" stroke-width="0.5"/>
<rect x="231.3" y="472" width="7.8" height="9.27" fill="#f8972c" stroke="rgba(0,0,0,0.4)" stroke-width="0.5"/>
<rect x="239.1" y="472" width="7.8" height="41.14" fill="#10b34e" stroke="rgba(0,0,0,0.4)" stroke-width="0.5"/>
<rect x="262.6" y="434.04" width="7.8" height="37.96" fill="#0a87cd" stroke="rgba(0,0,0,0.4)" stroke-width="0.5"/>
<rect x="270.4" y="472" width="7.8" height="8.11" fill="#f8972c" stroke="rgba(0,0,0,0.4)" stroke-width="0.5"/>
<rect x="278.2" y="472" width="7.8" height="44.33" fill="#10b34e" stroke="rgba(0,0,0,0.4)" stroke-width="0.5"/>
<rect x="301.7" y="430.45" width="7.8" height="41.55" fill="#0a87cd" stroke="rgba(0,0,0,0.4)" stroke-width="0.5"/>
<rect x="309.5" y="472" width="7.8" height="14.08" fill="#f8972c" stroke="rgba(0,0,0,0.4)" stroke-width="0.5"/>
<rect x="317.3" y="472" width="7.8" height="41.14" fill="#10b34e" stroke="rgba(0,0,0,0.4)" stroke-width="0.5"/>
<rect x="340.8" y="428.77" width="7.8" height="43.23" fill="#0a87cd" stroke="rgba(0,0,0,0.4)" stroke-width="0.5"/>
<rect x="348.6" y="472" width="7.8" height="12" fill="#f8972c" stroke="rgba(0,0,0,0.4)" stroke-width="0.5"/>
<rect x="356.4" y="472" width="7.8" height="37.26" fill="#10b34e" stroke="rgba(0,0,0,0.4)" stroke-width="0.5"/>
<line x1="215.5" y1="472" x2="372" y2="472" stroke="#000" stroke-width="1.3"/>
<rect x="215.5" y="414.05" width="156.5" height="115.9" fill="none" stroke="#333333" stroke-width="1.1"/>
<line x1="215.5" y1="414.05" x2="218.1" y2="414.05" stroke="#333333" stroke-width="1"/>
<text transform="translate(213.5 416.55) scale(0.95 1)" class="yt">1.0</text>
<line x1="215.5" y1="425.64" x2="218.1" y2="425.64" stroke="#333333" stroke-width="1"/>
<text transform="translate(213.5 428.14) scale(0.95 1)" class="yt">0.8</text>
<line x1="215.5" y1="437.23" x2="218.1" y2="437.23" stroke="#333333" stroke-width="1"/>
<text transform="translate(213.5 439.73) scale(0.95 1)" class="yt">0.6</text>
<line x1="215.5" y1="448.82" x2="218.1" y2="448.82" stroke="#333333" stroke-width="1"/>
<text transform="translate(213.5 451.32) scale(0.95 1)" class="yt">0.4</text>
<line x1="215.5" y1="460.41" x2="218.1" y2="460.41" stroke="#333333" stroke-width="1"/>
<text transform="translate(213.5 462.91) scale(0.95 1)" class="yt">0.2</text>
<line x1="215.5" y1="472" x2="218.1" y2="472" stroke="#333333" stroke-width="1"/>
<text transform="translate(213.5 474.5) scale(0.95 1)" class="yt">0.0</text>
<line x1="215.5" y1="483.59" x2="218.1" y2="483.59" stroke="#333333" stroke-width="1"/>
<text transform="translate(213.5 486.09) scale(0.95 1)" class="yt"><tspan class="mn" dy="-0.8">-</tspan><tspan dy="0.8">0.2</tspan></text>
<line x1="215.5" y1="495.18" x2="218.1" y2="495.18" stroke="#333333" stroke-width="1"/>
<text transform="translate(213.5 497.68) scale(0.95 1)" class="yt"><tspan class="mn" dy="-0.8">-</tspan><tspan dy="0.8">0.4</tspan></text>
<line x1="215.5" y1="506.77" x2="218.1" y2="506.77" stroke="#333333" stroke-width="1"/>
<text transform="translate(213.5 509.27) scale(0.95 1)" class="yt"><tspan class="mn" dy="-0.8">-</tspan><tspan dy="0.8">0.6</tspan></text>
<line x1="215.5" y1="518.36" x2="218.1" y2="518.36" stroke="#333333" stroke-width="1"/>
<text transform="translate(213.5 520.86) scale(0.95 1)" class="yt"><tspan class="mn" dy="-0.8">-</tspan><tspan dy="0.8">0.8</tspan></text>
<line x1="215.5" y1="529.95" x2="218.1" y2="529.95" stroke="#333333" stroke-width="1"/>
<text transform="translate(213.5 532.45) scale(0.95 1)" class="yt"><tspan class="mn" dy="-0.8">-</tspan><tspan dy="0.8">1.0</tspan></text>
<line x1="235.2" y1="529.95" x2="235.2" y2="527.75" stroke="#333333" stroke-width="1"/>
<text transform="translate(235.2 537.55) scale(0.8 1)" class="xt">3</text>
<line x1="274.3" y1="529.95" x2="274.3" y2="527.75" stroke="#333333" stroke-width="1"/>
<text transform="translate(274.3 537.55) scale(0.8 1)" class="xt">4</text>
<line x1="313.4" y1="529.95" x2="313.4" y2="527.75" stroke="#333333" stroke-width="1"/>
<text transform="translate(313.4 537.55) scale(0.8 1)" class="xt">5</text>
<line x1="352.5" y1="529.95" x2="352.5" y2="527.75" stroke="#333333" stroke-width="1"/>
<text transform="translate(352.5 537.55) scale(0.8 1)" class="xt">6</text>
<text x="293.75" y="541.7" class="ml">Month</text>
<text transform="translate(201.7 472) rotate(-90) scale(1.05 1)" class="cl">Correlation</text>
<text transform="translate(216.7 420.35) scale(0.93 1)" class="tt">(h) NDVI POP</text>
<rect x="281.25" y="416.75" width="10.9" height="5.6" fill="#0a87cd" stroke="#444" stroke-width="0.45"/>
<text x="295.6" y="421.55" class="lg">Temp</text>
<rect x="314.5" y="416.75" width="12.1" height="5.6" fill="#f8972c" stroke="#444" stroke-width="0.45"/>
<text x="329.6" y="421.55" class="lg">Prcp</text>
<rect x="345.3" y="416.75" width="12.25" height="5.6" fill="#10b34e" stroke="#444" stroke-width="0.45"/>
<text x="361" y="421.55" class="lg">RH</text>
</g>
</svg>
</body></html>
